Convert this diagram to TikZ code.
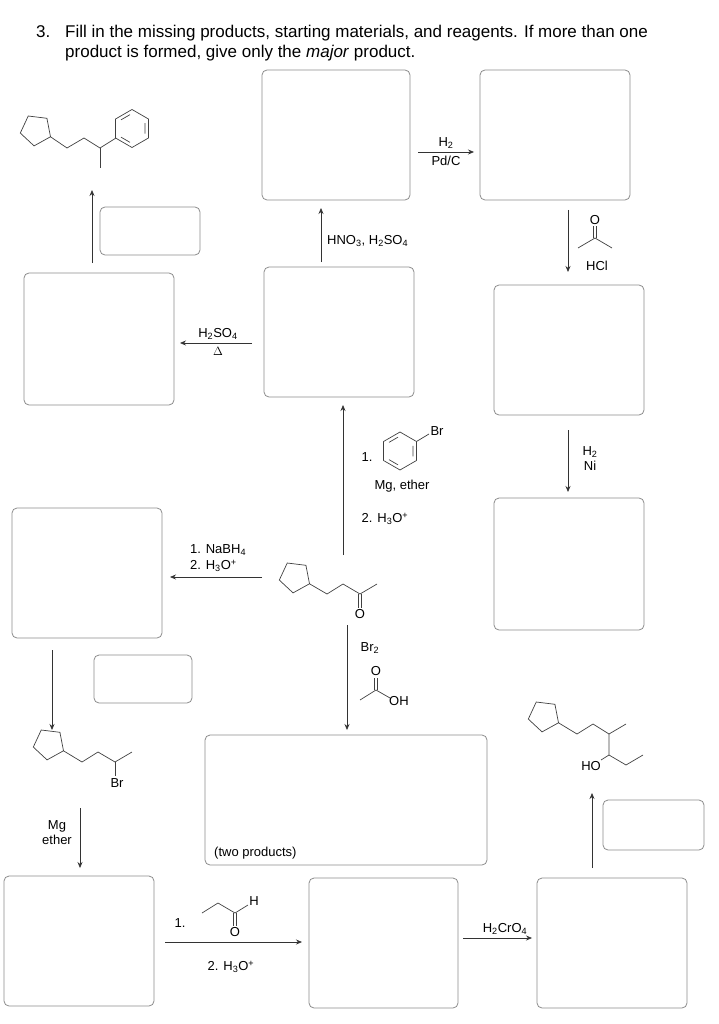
\documentclass[tikz,border=0pt]{standalone}
\usepackage{fontspec}
\setmainfont{Liberation Sans}
\usetikzlibrary{arrows.meta,calc}
\newcommand\sbs[1]{\textsubscript{#1}}
\newcommand\sps[1]{\textsuperscript{#1}}
\begin{document}
\begin{tikzpicture}[x=1pt,y=-1pt,
  box/.style={draw=black!45,line width=0.8pt,rounded corners=5pt},
  arr/.style={-{Stealth[length=6pt,width=5pt]},line width=0.7pt,black!80},
  bd/.style={line width=0.7pt,black!75},
  lab/.style={font=\fontsize{13}{15}\selectfont,inner sep=0pt},
  every node/.style={inner sep=0pt}]
\useasboundingbox (0,0) rectangle (718,1024);
\newcommand\cpent[3]{\draw[bd,shift={(#1,#2)}] (#3:16) -- (#3+72:16) -- (#3+144:16) -- (#3+216:16) -- (#3+288:16) -- cycle;}
\newcommand\benz[2]{\draw[bd,shift={(#1,#2)}] (30:19) -- (90:19) -- (150:19) -- (210:19) -- (270:19) -- (330:19) -- cycle;
  \draw[bd,shift={(#1,#2)}] ($(90:15)!0.15!(150:15)$) -- ($(90:15)!0.85!(150:15)$) ($(210:15)!0.15!(270:15)$) -- ($(210:15)!0.85!(270:15)$) ($(330:15)!0.15!(30:15)$) -- ($(330:15)!0.85!(30:15)$);}
% title
\node[anchor=base west,font=\fontsize{17}{20}\selectfont] (t0) at (36,38) {3.};
\node[anchor=base west,font=\fontsize{17}{20}\selectfont] (t1) at (65,38) {Fill in the missing products, starting materials, and reagents. If more than one};
\node[anchor=base west,font=\fontsize{17}{20}\selectfont] (t2) at (65,58) {product is formed, give only the \textit{major} product.};
% boxes
\draw[box] (262,70) rectangle (410,200);
\draw[box] (480,70) rectangle (630,200);
\draw[box] (100,207) rectangle (200,255);
\draw[box] (24,273) rectangle (174,405);
\draw[box] (264,267) rectangle (414,397);
\draw[box] (494,285) rectangle (644,415);
\draw[box] (12,508) rectangle (162,638);
\draw[box] (494,498) rectangle (644,630);
\draw[box] (94,655) rectangle (192,703);
\draw[box] (205,735) rectangle (487,865);
\draw[box] (603,800) rectangle (704,850);
\draw[box] (4,876) rectangle (154,1006);
\draw[box] (309,878) rectangle (458,1008);
\draw[box] (537,878) rectangle (687,1008);
% arrows and reagents
\coordinate (a1s) at (418,152); \coordinate (a1e) at (474,152);
\draw[arr] (a1s) -- (a1e);
\node[lab] (h2a) at (446,143) {H\sbs{2}};
\node[lab] (pdc) at (446,161) {Pd/C};
\coordinate (a2s) at (92,263); \coordinate (a2e) at (92,190);
\draw[arr] (a2s) -- (a2e);
\coordinate (a3s) at (321,262); \coordinate (a3e) at (321,208);
\draw[arr] (a3s) -- (a3e);
\node[lab,anchor=west] (hno) at (327,241) {HNO\sbs{3}, H\sbs{2}SO\sbs{4}};
\coordinate (a4s) at (568,210); \coordinate (a4e) at (568,272);
\draw[arr] (a4s) -- (a4e);
\draw[bd] (578,248) -- (595,238) -- (612,248);
\draw[bd] (593.5,238) -- (593.5,226) (596.5,238) -- (596.5,226);
\node[lab] (o1) at (595,220) {O};
\node[lab] (hcl) at (597,266) {HCl};
\coordinate (a5s) at (252,343); \coordinate (a5e) at (180,343);
\draw[arr] (a5s) -- (a5e);
\node[lab] (hso) at (218,334) {H\sbs{2}SO\sbs{4}};
\node[lab] (del) at (218,351) {$\Delta$};
\coordinate (a6s) at (343,555); \coordinate (a6e) at (343,405);
\draw[arr] (a6s) -- (a6e);
\node[lab] (one1) at (367,457) {1.};
\benz{400}{451}
\draw[bd] (416.5,441.5) -- (429,434);
\node[lab] (br1) at (437,431) {Br};
\node[lab] (mg1) at (402,486) {Mg, ether};
\node[lab] (h3o1) at (385,519) {2. H\sbs{3}O\sps{+}};
\coordinate (a7s) at (568,430); \coordinate (a7e) at (568,492);
\draw[arr] (a7s) -- (a7e);
\node[lab] (h2b) at (590,452) {H\sbs{2}};
\node[lab] (ni) at (590,466) {Ni};
\coordinate (a8s) at (262,577); \coordinate (a8e) at (170,577);
\draw[arr] (a8s) -- (a8e);
\node[lab,anchor=west] (nab) at (190,550) {1. NaBH\sbs{4}};
\node[lab,anchor=west] (h3o2) at (190,566) {2. H\sbs{3}O\sps{+}};
\coordinate (a9s) at (52,650); \coordinate (a9e) at (52,730);
\draw[arr] (a9s) -- (a9e);
\coordinate (a10s) at (347,625); \coordinate (a10e) at (347,730);
\draw[arr] (a10s) -- (a10e);
\node[lab] (br2) at (370,648) {Br\sbs{2}};
\draw[bd] (360,700) -- (376,690) -- (390,698);
\draw[bd] (374.5,690) -- (374.5,678) (377.5,690) -- (377.5,678);
\node[lab] (o2) at (376,671) {O};
\node[lab,anchor=west] (oh1) at (389,701) {OH};
\coordinate (a11s) at (80,808); \coordinate (a11e) at (80,868);
\draw[arr] (a11s) -- (a11e);
\node[lab] (mg2) at (57,826) {Mg};
\node[lab] (eth) at (57,840) {ether};
\node[lab,anchor=west] (two) at (214,853) {(two products)};
\coordinate (a12s) at (592,868); \coordinate (a12e) at (592,793);
\draw[arr] (a12s) -- (a12e);
\coordinate (a13s) at (165,942); \coordinate (a13e) at (302,942);
\draw[arr] (a13s) -- (a13e);
\node[lab] (one2) at (180,923) {1.};
\draw[bd] (202,913) -- (218,903) -- (235,913) -- (248,905);
\draw[bd] (233.5,913) -- (233.5,926) (236.5,913) -- (236.5,926);
\node[lab] (o3) at (235,932) {O};
\node[lab] (hh) at (254,901) {H};
\node[lab] (h3o3) at (231,967) {2. H\sbs{3}O\sps{+}};
\coordinate (a14s) at (463,938); \coordinate (a14e) at (532,938);
\draw[arr] (a14s) -- (a14e);
\node[lab] (cro) at (505,929) {H\sbs{2}CrO\sbs{4}};
% molecule 1 (top left)
\cpent{36}{130}{25}
\draw[bd] (50.5,136.8) -- (67,148) -- (84,138) -- (100,148) -- (116,138);
\draw[bd] (100,148) -- (100,168);
\benz{132}{128.5}
% ketone
\cpent{295}{577}{25}
\draw[bd] (309.5,583.8) -- (327,594) -- (343,584) -- (360,594) -- (377,584);
\draw[bd] (358.5,594) -- (358.5,608) (361.5,594) -- (361.5,608);
\node[lab] (o4) at (360,614) {O};
% bromide
\cpent{49}{744}{25}
\draw[bd] (63.5,750.8) -- (82,762) -- (98,752) -- (115,762) -- (132,752);
\draw[bd] (115,762) -- (115,776);
\node[lab] (br3) at (117,783) {Br};
% alcohol
\cpent{544}{716}{25}
\draw[bd] (558.5,722.8) -- (577,734) -- (593,724) -- (609,734) -- (626,724);
\draw[bd] (609,734) -- (609,755) -- (626,765) -- (643,755);
\draw[bd] (609,755) -- (601,760);
\node[lab,anchor=east] (ho) at (601,766) {HO};
\end{tikzpicture}
\end{document}
